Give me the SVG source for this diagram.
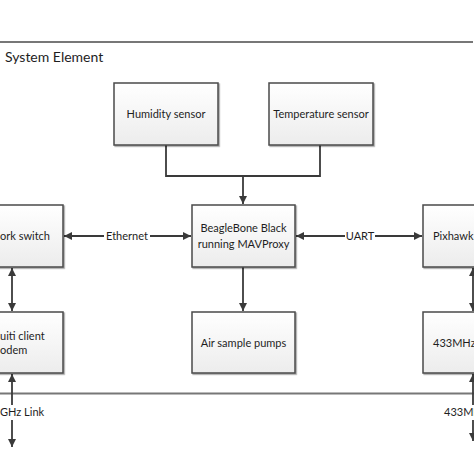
<svg xmlns="http://www.w3.org/2000/svg" width="474" height="474" viewBox="0 0 474 474">
<defs>
<linearGradient id="bg" x1="0" y1="0" x2="0" y2="1">
<stop offset="0" stop-color="#ffffff"/>
<stop offset="1" stop-color="#ececec"/>
</linearGradient>
<marker id="ah" viewBox="0 0 10 10" refX="10" refY="5" markerWidth="10" markerHeight="8" markerUnits="userSpaceOnUse" orient="auto-start-reverse">
<path d="M0,0 L10,5 L0,10 Z" fill="#3a3a3a"/>
</marker>
<filter id="sh" x="-10%" y="-10%" width="130%" height="130%">
<feDropShadow dx="1.2" dy="1.2" stdDeviation="0.6" flood-color="#000" flood-opacity="0.35"/>
</filter>
</defs>
<style>
.box{fill:url(#bg);stroke:#4a4a4a;stroke-width:1.5;filter:url(#sh)}
.t{font-family:Lato,"Liberation Sans",sans-serif;font-size:11px;fill:#1e1e1e;text-anchor:middle}
.lbl{font-family:Lato,"Liberation Sans",sans-serif;font-size:11px;fill:#1e1e1e}
.c{stroke:#3a3a3a;stroke-width:1.8;fill:none}
.frame{stroke:#777;stroke-width:2;fill:none}
</style>
<rect width="474" height="474" fill="#ffffff"/>
<g id="frame">
<line class="frame" x1="0" y1="42" x2="473" y2="42"/>
<line class="frame" x1="0" y1="393.5" x2="474" y2="393.5"/>
<text x="5" y="62" font-family="Lato,'Liberation Sans',sans-serif" font-size="14" fill="#1e1e1e">System Element</text>
</g>
<g id="connectors">
<polyline class="c" points="166,145 166,176 320,176 320,145"/>
<line class="c" x1="243" y1="176" x2="243" y2="204" marker-end="url(#ah)"/>
<line class="c" x1="243" y1="267" x2="243" y2="311" marker-end="url(#ah)"/>
<line class="c" x1="64" y1="236" x2="191" y2="236" marker-start="url(#ah)" marker-end="url(#ah)"/>
<line class="c" x1="296" y1="236" x2="422" y2="236" marker-start="url(#ah)" marker-end="url(#ah)"/>
<line class="c" x1="12" y1="268" x2="12" y2="311" marker-start="url(#ah)" marker-end="url(#ah)"/>
<line class="c" x1="473" y1="268" x2="473" y2="311" marker-start="url(#ah)" marker-end="url(#ah)"/>
<line class="c" x1="12" y1="374" x2="12" y2="447" marker-start="url(#ah)" marker-end="url(#ah)"/>
<line class="c" x1="473" y1="374" x2="473" y2="441" marker-start="url(#ah)" marker-end="url(#ah)"/>
<rect x="104" y="229" width="46" height="14" fill="#fff"/>
<text class="t" x="127" y="240">Ethernet</text>
<rect x="345" y="229" width="30" height="14" fill="#fff"/>
<text class="t" x="360" y="240">UART</text>
<rect x="0" y="405" width="42" height="15" fill="#fff"/>
<text class="lbl" x="0" y="416">GHz Link</text>
<rect x="443" y="405" width="31" height="15" fill="#fff"/>
<text class="lbl" x="444" y="416" font-size="10.5">433MH</text>
</g>
<g id="humidity">
<rect class="box" x="114" y="83" width="104" height="62"/>
<text class="t" x="166" y="118">Humidity sensor</text>
</g>
<g id="temperature">
<rect class="box" x="269" y="83" width="104" height="62"/>
<text class="t" x="321" y="118">Temperature sensor</text>
</g>
<g id="network-switch">
<rect class="box" x="-41" y="205" width="104" height="62"/>
<text class="lbl" x="0" y="240">ork switch</text>
</g>
<g id="beaglebone">
<rect class="box" x="192" y="205" width="103" height="62"/>
<text class="t" x="243.5" y="232">BeagleBone Black</text>
<text class="t" x="243.5" y="248">running MAVProxy</text>
</g>
<g id="pixhawk">
<rect class="box" x="423" y="205" width="104" height="62"/>
<text class="lbl" x="433" y="240">Pixhawk</text>
</g>
<g id="ubiquiti">
<rect class="box" x="-41" y="312" width="104" height="61"/>
<text class="lbl" x="0" y="340">uiti client</text>
<text class="lbl" x="0" y="354">odem</text>
</g>
<g id="air-pumps">
<rect class="box" x="192" y="312" width="103" height="61"/>
<text class="t" x="243.5" y="347">Air sample pumps</text>
</g>
<g id="radio-433">
<rect class="box" x="423" y="312" width="104" height="61"/>
<text class="lbl" x="433" y="347" font-size="10.5">433MHz</text>
</g>
</svg>
